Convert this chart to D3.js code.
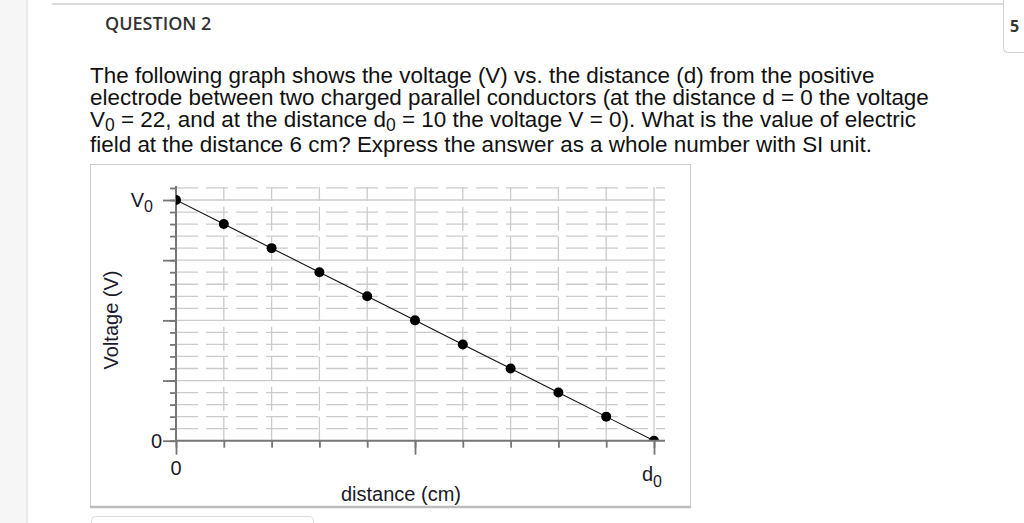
<!DOCTYPE html>
<html>
<head>
<meta charset="utf-8">
<script src="https://cdn.jsdelivr.net/npm/d3@7"></script>
<style>
  html, body { margin: 0; padding: 0; background: #fff; }
  svg { display: block; }
</style>
</head>
<body>
<svg id="page" width="1024" height="523"></svg>
<script>
// ---------------- data ----------------
const distance = [0, 1, 2, 3, 4, 5, 6, 7, 8, 9, 10];
const voltage  = [22, 19.8, 17.6, 15.4, 13.2, 11, 8.8, 6.6, 4.4, 2.2, 0];

const yMinorTicks = [0, 1.1, 2.2, 3.3, 4.4, 5.5, 6.6, 7.7, 8.8, 9.9, 11, 12.1, 13.2, 14.3, 15.4, 16.5, 17.6, 18.7, 19.8, 20.9, 22, 23.1];
const yMajorTicks = [0, 5.5, 11, 16.5, 22];
const xMinorTicks = [0, 1, 2, 3, 4, 5, 6, 7, 8, 9, 10];
const xMajorTicks = [0, 5, 10];

const yLabelValues = [0, 22];
const yLabelBase   = ["0", "V"];
const yLabelSub    = ["", "0"];
const xLabelValues = [0, 10];
const xLabelBase   = ["0", "d"];
const xLabelSub    = ["", "0"];

const questionTitle = "QUESTION 2";
const questionLines = [
  [["The following graph shows the voltage (V) vs. the distance (d) from the positive", false]],
  [["electrode between two charged parallel conductors (at the distance d = 0 the voltage", false]],
  [["V", false], ["0", true], [" = 22, and at the distance d", false], ["0", true], [" = 10 the voltage V = 0). What is the value of electric", false]],
  [["field at the distance 6 cm? Express the answer as a whole number with SI unit.", false]]
];

// ---------------- page chrome ----------------
const svg = d3.select("#page");
const FONT = "'Liberation Sans', Arial, sans-serif";

svg.append("rect").attr("x", 0).attr("y", 0).attr("width", 26).attr("height", 523).attr("fill", "#f6f6f6");
svg.append("line").attr("x1", 27).attr("x2", 27).attr("y1", 0).attr("y2", 523)
   .attr("stroke", "#e2e2e2").attr("stroke-width", 1.5);
svg.append("line").attr("x1", 52).attr("x2", 1004).attr("y1", 4).attr("y2", 4)
   .attr("stroke", "#dcdcdc").attr("stroke-width", 1.8);
// right score box (cut off)
svg.append("rect").attr("x", 1003.5).attr("y", -6).attr("width", 40).attr("height", 58.5).attr("rx", 4)
   .attr("fill", "#fff").attr("stroke", "#d0d0d0");
svg.append("text").attr("x", 1010).attr("y", 32).attr("font-family", "'Open Sans', sans-serif")
   .attr("font-weight", 700).attr("font-size", 16).attr("fill", "#333").text("5");

svg.append("text").attr("x", 105).attr("y", 30)
   .attr("font-family", "'Open Sans', sans-serif").attr("font-weight", 600)
   .attr("font-size", 18).attr("fill", "#333").text(questionTitle);

// question paragraph
const qBaselines = [82.5, 105, 127, 152];
const SUB_SHIFT = 4;
const qg = svg.append("g").attr("font-family", FONT).attr("fill", "#111");
const qTexts = questionLines.map((parts, i) => {
  const t = qg.append("text").attr("x", 90).attr("y", qBaselines[i]).attr("font-size", 20);
  let shifted = false;
  parts.forEach(([s, sub]) => {
    const ts = t.append("tspan").text(s);
    if (sub) { ts.attr("class", "sub").attr("dy", SUB_SHIFT); shifted = true; }
    else if (shifted) { ts.attr("dy", -SUB_SHIFT); shifted = false; }
  });
  return t;
});
// fit font size so line 1 spans the same width as the reference
const w0 = qTexts[0].node().getComputedTextLength();
const qSize = 20 * 785 / w0;
qTexts.forEach(t => {
  t.attr("font-size", qSize);
  t.selectAll("tspan.sub").attr("font-size", qSize * 0.78);
});

// chart box
svg.append("rect").attr("x", 90.5).attr("y", 164.5).attr("width", 600).attr("height", 342)
   .attr("fill", "#fff").attr("stroke", "#cccccc");
svg.append("line").attr("x1", 90).attr("x2", 691).attr("y1", 507).attr("y2", 507)
   .attr("stroke", "#bdbdbd").attr("stroke-width", 2.5);
// next element box (cut off at bottom)
svg.append("rect").attr("x", 91.5).attr("y", 516.5).attr("width", 222).attr("height", 30).attr("rx", 4)
   .attr("fill", "#fff").attr("stroke", "#dddddd");

// ---------------- chart ----------------
const x = d3.scaleLinear().domain([0, 10]).range([176, 654]);
const y = d3.scaleLinear().domain([0, 22]).range([440.7, 200]);
const xEnd = 10.23, yTop = 23.1;

const grid = svg.append("g").attr("stroke", "#cbcbcb").attr("stroke-width", 1.3).attr("fill", "none");
// horizontal grid
grid.selectAll("line.h").data(yMinorTicks.filter(v => v > 0)).join("line")
  .attr("class", "h")
  .attr("x1", x(0)).attr("x2", x(xEnd))
  .attr("y1", d => y(d)).attr("y2", d => y(d))
  .attr("stroke-dasharray", (d, i) => ((i + 1) % 5 === 0 ? null : "22,8"));
// vertical grid
grid.selectAll("line.v").data(xMinorTicks.filter(v => v > 0)).join("line")
  .attr("class", "v")
  .attr("x1", d => x(d)).attr("x2", d => x(d))
  .attr("y1", y(0)).attr("y2", y(yTop) - 1)
  .attr("stroke-dasharray", d => (xMajorTicks.includes(d) ? null : "24,6"));

// axes
const axisColor = "#767676";
const yMinorAxis = d3.axisLeft(y).tickValues(yMinorTicks).tickSize(6).tickFormat("");
const yMajorAxis = d3.axisLeft(y).tickValues(yMajorTicks).tickSize(13).tickFormat("");
const xMinorAxis = d3.axisBottom(x).tickValues(xMinorTicks).tickSize(7).tickFormat("");
const xMajorAxis = d3.axisBottom(x).tickValues(xMajorTicks).tickSize(14).tickFormat("");

function styleAxis(g) {
  g.select(".domain").remove();
  g.selectAll(".tick line").attr("stroke", axisColor).attr("stroke-width", 1.8);
}
svg.append("g").attr("transform", `translate(${x(0)},0)`).call(yMinorAxis).call(styleAxis);
svg.append("g").attr("transform", `translate(${x(0)},0)`).call(yMajorAxis).call(styleAxis);
svg.append("g").attr("transform", `translate(0,${y(0)})`).call(xMinorAxis).call(styleAxis);
svg.append("g").attr("transform", `translate(0,${y(0)})`).call(xMajorAxis).call(styleAxis);

svg.append("line").attr("x1", x(0)).attr("x2", x(0)).attr("y1", y(yTop) - 2).attr("y2", y(0))
   .attr("stroke", axisColor).attr("stroke-width", 2);

// data line + dots (clipped to plot area)
svg.append("clipPath").attr("id", "plotClip").append("rect")
   .attr("x", x(0)).attr("y", y(yTop) - 2).attr("width", x(xEnd) - x(0)).attr("height", y(0) - y(yTop) + 2);

const pts = distance.map((d, i) => [d, voltage[i]]);
const plot = svg.append("g").attr("clip-path", "url(#plotClip)");
plot.append("path").datum(pts)
  .attr("d", d3.line().x(d => x(d[0])).y(d => y(d[1])))
  .attr("fill", "none").attr("stroke", "#111").attr("stroke-width", 1.1);
plot.selectAll("circle").data(pts).join("circle")
  .attr("cx", d => x(d[0])).attr("cy", d => y(d[1])).attr("r", 5).attr("fill", "#000");

// x axis line drawn on top
svg.append("line").attr("x1", x(0)).attr("x2", x(xEnd)).attr("y1", y(0)).attr("y2", y(0))
   .attr("stroke", axisColor).attr("stroke-width", 2);

// axis labels
const lab = svg.append("g").attr("font-family", FONT).attr("fill", "#1a1a2a");
yLabelValues.forEach((v, i) => {
  const t = lab.append("text").attr("x", 153 + (yLabelSub[i] ? 0 : 9)).attr("y", y(v) + 7)
    .attr("text-anchor", "end").attr("font-size", 20);
  t.append("tspan").text(yLabelBase[i]);
  if (yLabelSub[i]) t.append("tspan").attr("dy", 5).attr("font-size", 16).text(yLabelSub[i]);
});
xLabelValues.forEach((v, i) => {
  const t = lab.append("text").attr("x", x(v) + (xLabelSub[i] ? -2 : 0)).attr("y", xLabelSub[i] ? 481 : 475)
    .attr("text-anchor", "middle").attr("font-size", 20);
  t.append("tspan").text(xLabelBase[i]);
  if (xLabelSub[i]) t.append("tspan").attr("dy", 6).attr("font-size", 16).text(xLabelSub[i]);
});

lab.append("text").attr("x", 401).attr("y", 501).attr("text-anchor", "middle")
   .attr("font-size", 20).text("distance (cm)");
lab.append("text").attr("transform", "translate(118,320) rotate(-90)").attr("text-anchor", "middle")
   .attr("font-size", 20).text("Voltage (V)");
</script>
</body>
</html>
